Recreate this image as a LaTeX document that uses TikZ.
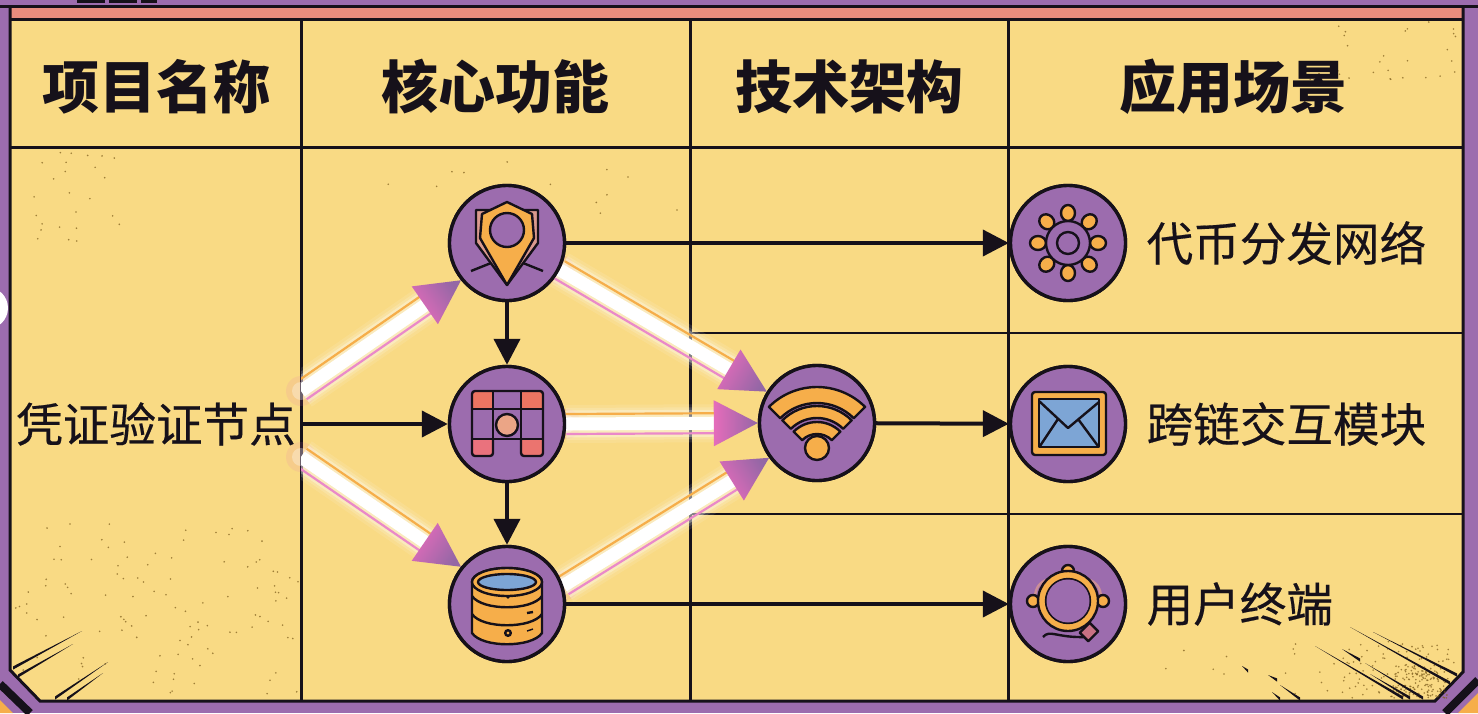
\documentclass[tikz,border=0pt]{standalone}
\usepackage{fontspec}
\setmainfont{Noto Sans CJK SC}
\usetikzlibrary{positioning,calc,arrows.meta}
\definecolor{marco}{HTML}{9C6CAE}
\definecolor{papel}{HTML}{F9DA84}
\definecolor{rosado}{HTML}{E98C7E}
\definecolor{tinta}{HTML}{16111A}
\definecolor{naranja}{HTML}{F6AE4A}
\definecolor{azul}{HTML}{7DA5D5}
\definecolor{rojo}{HTML}{EC7562}
\definecolor{salmon}{HTML}{EBA586}
\definecolor{magenta}{HTML}{E56CBB}
\definecolor{mancha}{HTML}{80601F}

% one glowing connector: halo, two coloured edges, white core, shaded head
\newcommand{\glowlink}[2]{
  \fill[magenta, opacity=0.12] (#1) circle (15);
  \fill[white, opacity=0.3] (#1) circle (9);
  \begin{scope}
    \clip (301,20) rectangle (1463,700);
    \foreach \w/\o in {19/0.1,16/0.16,13.5/0.3}
      \draw[glowhalo, line width=\w pt, opacity=\o, shorten >=18pt] (#1) -- (#2);
    \draw[glowedge, naranja] ($(#1)!5pt!90:(#2)$) -- ($(#2)!5pt!-90:(#1)$);
    \draw[glowedge, magenta!80!white] ($(#1)!-5pt!90:(#2)$) -- ($(#2)!-5pt!-90:(#1)$);
    \draw[glowcore] (#1) -- (#2);
  \end{scope}
  \pgfmathanglebetweenpoints{\pgfpointanchor{#1}{center}}{\pgfpointanchor{#2}{center}}
  \let\glowang\pgfmathresult
  \pgfmathsetmacro\glowshade{\glowang-90}
  \begin{scope}[shift={(#2)}, rotate=\glowang]
    \shade[top color=marco!95!black, middle color=marco!65!magenta, bottom color=magenta, shading angle=\glowshade]
      (0,0) -- (-44,-23) -- (-44,23) -- cycle;
  \end{scope}
}
\newcommand{\wifiband}[2]{
  \filldraw[iconline, fill=naranja] (-135:#1) arc[start angle=-135, end angle=-45, radius=#1]
    -- (-45:#2) arc[start angle=-45, end angle=-135, radius=#2] -- cycle;
}

\begin{document}
\begin{tikzpicture}[x=0.5pt, y=-0.5pt,
    every node/.style={text=tinta},
    header/.style={font=\bfseries\fontsize{28.5}{30}\selectfont, inner sep=0pt},
    cell/.style={font=\addfontfeatures{FakeBold=0.4}\fontsize{23.3}{26}\selectfont, inner sep=0pt},
    disc/.style={circle, draw=tinta, fill=marco, line width=1.7pt, minimum size=57.5pt, inner sep=0pt},
    arrow/.style={-{Triangle[length=13pt, width=13pt]}, line width=2pt, color=tinta},
    rule/.style={color=tinta, line width=1.5pt},
    thinrule/.style={color=tinta, line width=1.1pt},
    glowhalo/.style={color=white},
    glowedge/.style={line width=1.1pt, shorten >=19pt},
    glowcore/.style={color=white, line width=6.5pt, shorten >=19pt},
    iconline/.style={draw=tinta, line width=1.2pt, line join=round},
    speck/.style={fill=mancha, opacity=0.75},
    burst/.style={fill=tinta}
  ]
  \useasboundingbox (0,0) rectangle (1478,713);
  % frame
  \fill[marco] (0,0) rectangle (1478,713);
  \fill[white] (-13,308) circle (21);
  \fill[naranja] (0,700) -- (13,713) -- (0,713) -- cycle;
  \fill[naranja] (1478,693) -- (1478,713) -- (1458,713) -- cycle;
  \draw[tinta, line width=4pt] (0,684) -- (30,713);
  \draw[tinta, line width=4pt] (1478,680) -- (1445,713);
  \draw[tinta, line width=1.5pt, dash pattern=on 14pt off 2pt] (77,1) -- (157,1);
  \fill[rosado] (10,7) rectangle (1463,19);
  \draw[tinta, line width=1.5pt] (0,6.5) -- (1478,6.5);
  \fill[papel] (10,20) -- (1463,20) -- (1463,672) -- (1435,700) -- (40,700) -- (10,670) -- cycle;
  \draw[tinta, line width=1.5pt] (10,6) -- (10,670) -- (40,701) -- (1435,701) -- (1463,672) -- (1463,6);
  \draw[tinta, line width=1.5pt] (10,19.5) -- (1463,19.5);

  % specks
  \pgfmathsetseed{4217}
  \foreach \xa/\xb/\ya/\yb/\n in {15/300/520/695/110, 15/130/150/250/25, 1300/1460/22/80/30, 1340/1455/640/698/90, 1395/1445/665/698/130, 380/680/160/220/14, 1150/1460/640/695/25}
    \foreach \i in {1,...,\n} {
      \pgfmathsetmacro\sx{\xa+rnd*(\xb-\xa)}
      \pgfmathsetmacro\sy{\ya+rnd*(\yb-\ya)}
      \fill[speck] (\sx,\sy) circle (0.9);
    }
  % corner strokes
  \foreach \xa/\ya/\xb/\yb in {13/668/82/631, 18/676/73/644, 55/698/108/662, 67/699/103/673,
      1457/675/1373/632, 1450/683/1350/627, 1403/698/1315/646, 1423/698/1365/663, 1410/698/1370/674,
      1300/699/1280/685, 1280/699/1272/692, 1277/680/1268/675, 1248/671/1242/666, 1360/660/1342/649}
    \fill[burst] (\xa,\ya-1.6) -- (\xb,\yb) -- (\xa,\ya+1.6) -- cycle;

  % table
  \foreach \x in {301,690,1008}
    \draw[rule] (\x,20) -- (\x,700);
  \draw[rule] (10,147) -- (1463,147);
  \draw[thinrule] (690,333) -- (1463,333);
  \draw[thinrule] (690,514) -- (1463,514);

  \node[header] (h1) at (156,87) {项目名称};
  \node[header] (h2) at (495,87) {核心功能};
  \node[header] (h3) at (849,87) {技术架构};
  \node[header] (h4) at (1233,87) {应用场景};

  \node[cell] (cred) at (156,424) {凭证验证节点};
  \coordinate (credout) at (301,424);
  \coordinate (credup) at (301,391);
  \coordinate (creddown) at (301,457);

  \node[disc] (pin) at (507,243) {};
  \node[disc, on grid, below=90.5pt of pin] (grid) {};
  \node[disc, on grid, below=90pt of grid] (db) {};
  \node[disc] (wifi) at (817,423) {};
  \node[disc] (gear) at (1068,243) {};
  \node[disc, on grid, below=90.5pt of gear] (mail) {};
  \node[disc, on grid, below=90pt of mail] (ring) {};

  \node[cell, right=9.5pt of gear] (t1) {代币分发网络};
  \node[cell, right=9.5pt of mail] (t2) {跨链交互模块};
  \node[cell, right=9.5pt of ring] (t3) {用户终端};

  % glowing links
  \coordinate (pinin) at (pin.219);
  \coordinate (dbin) at (db.141);
  \coordinate (pinout) at (pin.-27);
  \coordinate (dbout) at (db.18);
  \coordinate (wifia) at (wifi.148);
  \coordinate (wifib) at (wifi.west);
  \coordinate (wific) at (wifi.216);
  \coordinate (gridout) at (grid.east);
  \glowlink{credup}{pinin}
  \glowlink{creddown}{dbin}
  \glowlink{pinout}{wifia}
  \glowlink{gridout}{wifib}
  \glowlink{dbout}{wific}

  % black links
  \draw[arrow] (credout) -- (grid);
  \draw[arrow] (pin) -- (grid);
  \draw[arrow] (grid) -- (db);
  \draw[arrow] (pin) -- (gear);
  \draw[arrow] (wifi) -- (mail);
  \draw[arrow] (db) -- (ring);

  % discs again, over the link ends
  \foreach \n in {pin,grid,db,wifi,gear,mail,ring}
    \filldraw[draw=tinta, fill=marco, line width=1.7pt] (\n) circle (57.5);

  % icons
  \begin{scope}[shift={(pin)}]
    \filldraw[iconline, fill=salmon!80!marco] (-31,-33) -- (31,-33) -- (31,0) -- (0,42) -- (-31,0) -- cycle;
    \filldraw[iconline, fill=naranja] (0,-41) -- (25,-29) -- (27,-5) -- (0,42) -- (-27,-5) -- (-25,-29) -- cycle;
    \filldraw[iconline, fill=marco] (0,-13) circle (17);
    \draw[iconline] (-36,28) -- (-16,20);
    \draw[iconline] (36,28) -- (16,20);
  \end{scope}
  \begin{scope}[shift={(grid)}]
    \fill[rojo] (-35,-33) rectangle (-14,-15);
    \fill[rojo] (14,-33) rectangle (36,-15);
    \fill[rojo!70!magenta] (-35,15) rectangle (-14,32);
    \fill[rojo!85!magenta] (14,15) rectangle (36,32);
    \draw[iconline, rounded corners=1.5] (-14,15) -- (-14,32) -- (-35,32) -- (-35,-33) -- (36,-33) -- (36,32) -- (14,32) -- (14,15);
    \draw[iconline] (-14,-33) -- (-14,15);
    \draw[iconline] (14,-33) -- (14,15);
    \draw[iconline] (-35,-15) -- (36,-15);
    \draw[iconline] (-35,15) -- (36,15);
    \filldraw[iconline, fill=salmon] (0,1) circle (11);
  \end{scope}
  \begin{scope}[shift={(db)}]
    \filldraw[iconline, fill=naranja] (-35,-22) -- (-35,29) .. controls (-25,44) and (25,44) .. (35,29) -- (35,-22) arc[start angle=0, end angle=-180, x radius=35, y radius=14] -- cycle;
    \filldraw[iconline, fill=naranja] (0,-22) ellipse [x radius=35, y radius=14];
    \filldraw[iconline, fill=azul] (0,-22) ellipse [x radius=29, y radius=8];
    \draw[iconline] (-35,-8) .. controls (-25,7) and (25,7) .. (35,-8);
    \draw[iconline] (-35,10) .. controls (-25,25) and (25,25) .. (35,10);
    \fill[tinta] (1,-7) circle (1.8);
    \draw[iconline] (1,29) circle (2.8);
    \draw[iconline] (20,9) -- (26,8);
    \draw[iconline, line width=0.7pt] (20,27) -- (26,25);
  \end{scope}
  \begin{scope}[shift={(wifi)}]
    \begin{scope}[shift={(0,32)}]
      \wifiband{68}{52}
      \wifiband{49}{37}
      \wifiband{33}{21}
    \end{scope}
    \filldraw[iconline, fill=naranja] (0,25) circle (12);
  \end{scope}
  \begin{scope}[shift={(gear)}]
    \foreach \a in {0,45,...,315}
      \filldraw[iconline, fill=naranja, rotate=\a] (30,0) ellipse [x radius=8, y radius=7];
    \filldraw[iconline, fill=marco] (0,0) circle (22);
    \draw[iconline] (0,0) circle (11);
  \end{scope}
  \begin{scope}[shift={(mail)}]
    \filldraw[iconline, fill=naranja, rounded corners=1.5] (-36,-32) rectangle (38,31);
    \filldraw[iconline, fill=azul] (-29,-25) rectangle (31,23);
    \draw[iconline] (-29,-23) -- (0,4) -- (31,-22);
    \draw[iconline] (-28,22) -- (-10,-5);
    \draw[iconline] (30,22) -- (10,-5);
  \end{scope}
  \begin{scope}[shift={(ring)}]
    \draw[salmon!60!marco, line width=1.2pt] (-33,-8) .. controls (-32,-18) and (-27,-22) .. (-22,-24);
    \draw[salmon!60!marco, line width=1.2pt] (33,-8) .. controls (32,-18) and (27,-22) .. (22,-24);
    \filldraw[iconline, fill=naranja] (0,-33) circle (6);
    \filldraw[iconline, fill=naranja] (-35,-3) circle (6);
    \filldraw[iconline, fill=naranja] (35,-3) circle (6);
    \draw[iconline] (-25,33) .. controls (-18,25) and (-12,34) .. (18,33);
    \filldraw[iconline, fill=naranja, even odd rule] (0,-3) circle (30) (0,-3) circle (22);
    \fill[marco] (0,-3) circle (21.5);
    \filldraw[iconline, fill=rojo!55!marco, rotate around={45:(21,28)}] (14,22) rectangle (28,34);
  \end{scope}
\end{tikzpicture}
\end{document}
